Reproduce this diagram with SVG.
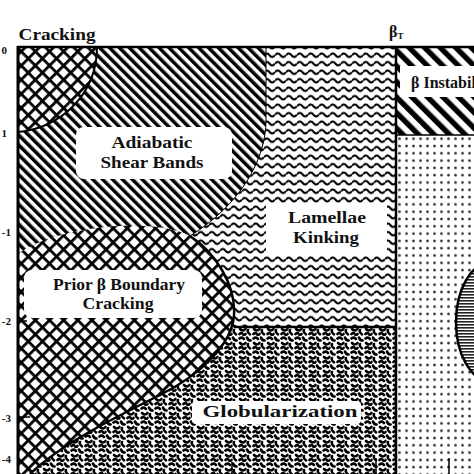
<svg xmlns="http://www.w3.org/2000/svg" width="474" height="474" viewBox="0 0 474 474">
<style>
.lbl{font-family:"Liberation Serif","DejaVu Serif",serif;font-weight:bold;fill:#111;text-anchor:middle;font-size:16px}
.ax{font-family:"Liberation Serif","DejaVu Serif",serif;font-weight:bold;fill:#111;text-anchor:end;font-size:11px}
.bd{fill:none;stroke:#000;stroke-width:2.5}
.wb{fill:#fff}
</style>
<defs>
<pattern id="xh" width="10" height="10" patternUnits="userSpaceOnUse" patternTransform="rotate(45)">
<rect width="10" height="10" fill="#fff"/><rect width="10" height="2.8" fill="#000"/><rect width="2.8" height="10" fill="#000"/>
</pattern>
<pattern id="st" width="7" height="7" patternUnits="userSpaceOnUse" patternTransform="rotate(-45)">
<rect width="7" height="7" fill="#fff"/><rect width="3.5" height="7" fill="#000"/>
</pattern>
<pattern id="st2" width="11" height="11" patternUnits="userSpaceOnUse" patternTransform="rotate(-45)">
<rect width="11" height="11" fill="#fff"/><rect width="5.4" height="11" fill="#000"/>
</pattern>
<pattern id="wv" width="11" height="8.5" patternUnits="userSpaceOnUse">
<rect width="11" height="8.5" fill="#fff"/><path d="M0,4.25 Q2.75,0.9 5.5,4.25 T11,4.25" stroke="#000" stroke-width="2.1" fill="none"/>
</pattern>
<pattern id="gl" width="14" height="14" patternUnits="userSpaceOnUse">
<rect width="14" height="14" fill="#fff"/>
<g stroke="#000" stroke-width="2.6" fill="none" stroke-linecap="round">
<path d="M1.5,2.5 q2.5,-2 4.5,0.5"/>
<path d="M9,1.5 q1,3 3.6,3"/>
<path d="M2,7 q3,3 5.5,0"/>
<path d="M10,8 q-1,2.5 2,4.3"/>
<path d="M1.5,12 q2,-2 3.5,0.3 q1,1.5 2.5,-0.3"/>
</g>
</pattern>
<pattern id="dt" x="396" y="135" width="7" height="7.3" patternUnits="userSpaceOnUse">
<rect width="7" height="7.3" fill="#fff"/><circle cx="3.5" cy="3.6" r="1.4" fill="#333"/>
</pattern>
<pattern id="hz" width="4" height="3" patternUnits="userSpaceOnUse">
<rect width="4" height="3" fill="#fff"/><rect width="4" height="1.6" fill="#222"/>
</pattern>
</defs>
<rect width="474" height="474" fill="#fff"/>

<g id="globularization">
<rect x="18" y="47" width="378" height="427" fill="url(#gl)"/>
<rect class="wb" x="192" y="401" width="169" height="23" rx="4"/>
<text class="lbl" x="280" y="417" textLength="155" lengthAdjust="spacingAndGlyphs">Globularization</text>
</g>

<g id="lamellae-kinking">
<path d="M266,47 H396 V327 H233.5 L234,315 C236,285 215,252 190,236 C240,205 266,160 266,120 Z" fill="url(#wv)"/>
<rect class="wb" x="266" y="203" width="121" height="52"/>
<text class="lbl" x="327" y="223" textLength="78" lengthAdjust="spacingAndGlyphs">Lamellae</text>
<text class="lbl" x="326" y="243" textLength="66" lengthAdjust="spacingAndGlyphs">Kinking</text>
</g>

<g id="adiabatic-shear-bands">
<path d="M97,47 H266 V120 C266,160 240,205 190,236 C175,228 150,225 120,226 C80,228 40,238 18,254 V132 C60,128 97,95 97,47 Z" fill="url(#st)"/>
<rect class="wb" x="76" y="127" width="156" height="52" rx="8"/>
<text class="lbl" x="152" y="148" textLength="81" lengthAdjust="spacingAndGlyphs">Adiabatic</text>
<text class="lbl" x="152" y="168" textLength="103" lengthAdjust="spacingAndGlyphs">Shear Bands</text>
</g>

<g id="prior-beta-boundary-cracking">
<path d="M18,254 C40,238 80,228 120,226 C150,225 175,228 190,236 C215,252 236,285 234,315 C232,345 200,375 160,395 C110,420 60,445 30,474 H18 Z" fill="url(#xh)"/>
<rect class="wb" x="24" y="270" width="178" height="48" rx="8"/>
<text class="lbl" x="119" y="290" textLength="132" lengthAdjust="spacingAndGlyphs">Prior β Boundary</text>
<text class="lbl" x="118" y="309" textLength="71" lengthAdjust="spacingAndGlyphs">Cracking</text>
</g>

<g id="cracking">
<path d="M18,47 H97 C97,95 60,128 18,132 Z" fill="url(#xh)"/>
<text class="lbl" x="57" y="40" textLength="77" lengthAdjust="spacingAndGlyphs" font-size="15">Cracking</text>
</g>

<g id="beta-instability">
<rect x="396" y="47" width="78" height="88" fill="url(#st2)"/>
<rect class="wb" x="400" y="66" width="80" height="31"/>
<text class="lbl" x="411" y="88" style="text-anchor:start">β Instability</text>
</g>

<g id="beta-region">
<rect x="396" y="135" width="78" height="339" fill="url(#dt)"/>
<ellipse cx="490" cy="322" rx="34" ry="59" fill="url(#hz)" stroke="#000" stroke-width="2.5"/>
</g>

<g id="connectors">
<path class="bd" d="M190,236 C215,252 236,285 234,315 C232,345 200,375 160,395 C110,420 60,445 30,474"/>
<path class="bd" d="M233.5,327 H396"/>
<path fill="none" stroke="#000" stroke-width="1" d="M266,47 V120 C266,160 240,205 190,236"/>
<path fill="none" stroke="#000" stroke-width="2" d="M97,47 C97,95 60,128 18,132"/>
<path fill="none" stroke="#000" stroke-width="1.5" d="M396,135 H474"/>
<path class="bd" d="M396,47 V474"/>
<path class="bd" d="M17,47 H474"/>
<path fill="none" stroke="#000" stroke-width="3" d="M18,46 V474"/>
<path fill="none" stroke="#000" stroke-width="1.5" d="M18,321 H27 M18,417 H30 M376,458 V474 M449,458 V474 M232,462 V474"/>
</g>

<g id="axis">
<text class="ax" x="7" y="54">0</text>
<text class="ax" x="7" y="137">1</text>
<text class="ax" x="11" y="236">-1</text>
<text class="ax" x="11" y="325">-2</text>
<text class="ax" x="11" y="422">-3</text>
<text class="ax" x="11" y="463">-4</text>
<text class="lbl" x="389" y="37" style="text-anchor:start" font-size="14">β<tspan font-size="9" dy="2">T</tspan></text>
</g>
</svg>
